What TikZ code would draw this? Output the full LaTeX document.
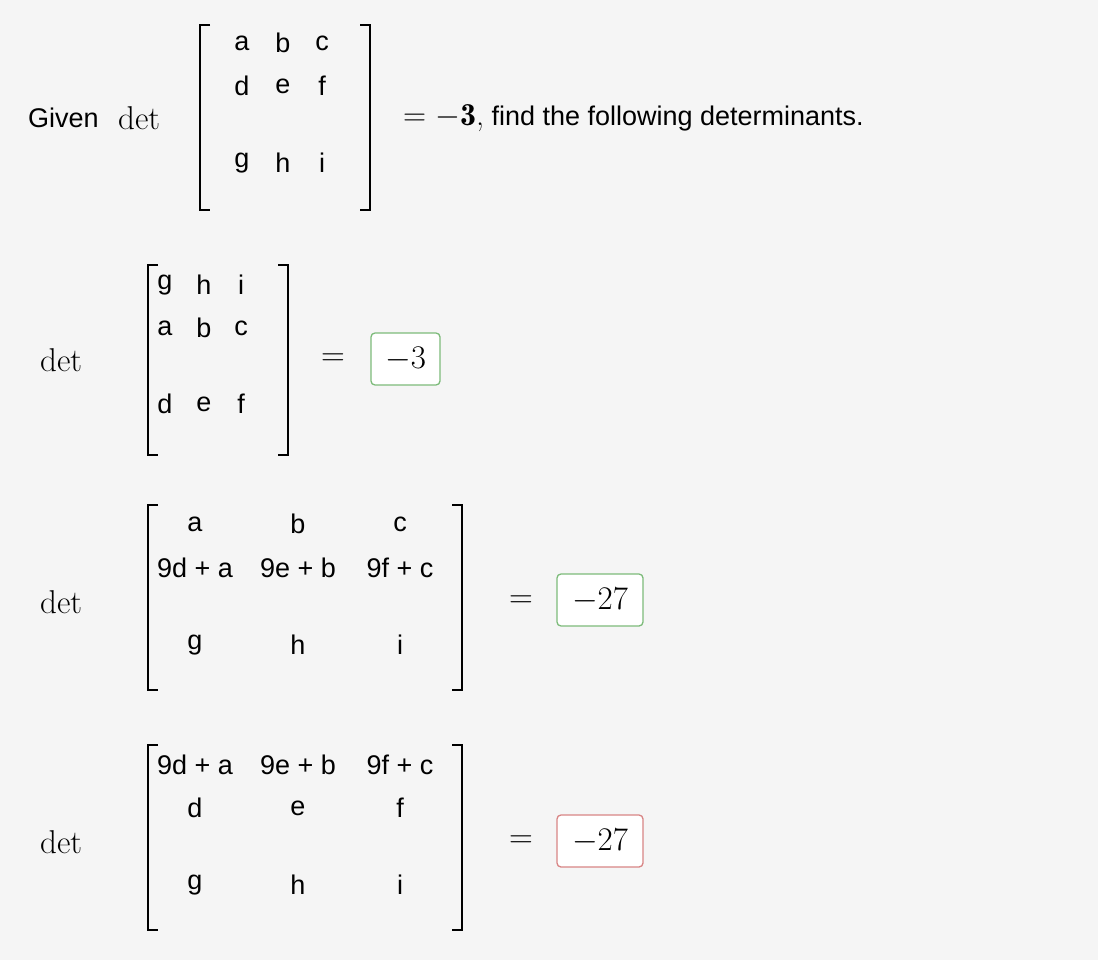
\documentclass[tikz,border=0pt]{standalone}
\usepackage{fix-cm}
\usepackage{fontspec}
\newfontfamily\sansf{Liberation Sans}
\begin{document}
\begin{tikzpicture}[x=1pt,y=-1pt,
  ent/.style={font=\sansf\fontsize{27}{30}\selectfont, inner sep=0pt},
  mt/.style={font=\fontsize{33}{36}\selectfont, inner sep=0pt},
  ans/.style={draw=#1, line width=1.3pt, rounded corners=4pt, fill=white, minimum height=52pt, font=\fontsize{33}{36}\selectfont},
  brk/.style={line width=2pt}]
\fill[gray!8] (0,0) rectangle (1098,960);
\useasboundingbox (0,0) rectangle (1098,960);
\definecolor{gb}{HTML}{7DBB7A}\definecolor{rb}{HTML}{D88585}
% header
\node[ent, font=\sansf\fontsize{27}{30}\selectfont, anchor=west] (given) at (28,118) {Given};
\node[mt, anchor=west] (d0) at (118,118) {$\det$};
\draw[brk] (210,25) -- (200,25) -- (200,210) -- (210,210);
\draw[brk] (360,25) -- (370,25) -- (370,210) -- (360,210);
\foreach \t/\x/\y [count=\i] in {a/242/43,b/283/43,c/322/43,d/242/86,e/283/86,f/322/86,g/242/163,h/283/163,i/322/163}
  \node[ent] (m0\i) at (\x,\y) {\t};
\node[anchor=west, inner sep=0pt] (r0) at (403,118) {\fontsize{32}{36}\selectfont$=\mathbf{-3}$,\sansf\fontsize{27}{30}\selectfont\ find the following determinants.};
% matrix 2
\node[mt, anchor=west] (d1) at (40,360) {$\det$};
\draw[brk] (158,265) -- (148,265) -- (148,455) -- (158,455);
\draw[brk] (278,265) -- (288,265) -- (288,455) -- (278,455);
\foreach \t/\x/\y [count=\i] in {g/165/285,h/204/285,i/241/285,a/165/328,b/204/328,c/241/328,d/165/404,e/204/404,f/241/404}
  \node[ent] (m1\i) at (\x,\y) {\t};
\node[mt] (e1) at (333,360) {$=$};
\node[ans=gb, minimum width=69pt] (a1) at (405.5,359) {$-3$};
% matrix 3
\node[mt, anchor=west] (d2) at (40,602) {$\det$};
\draw[brk] (158,505) -- (148,505) -- (148,690) -- (158,690);
\draw[brk] (452,505) -- (462,505) -- (462,690) -- (452,690);
\foreach \t/\x/\y [count=\i] in {a/195/524,b/298/524,c/400/524,9d + a/195/568,9e + b/298/568,9f + c/400/568,g/195/645,h/298/645,i/400/645}
  \node[ent] (m2\i) at (\x,\y) {\t};
\node[mt] (e2) at (521,602) {$=$};
\node[ans=gb, minimum width=86pt] (a2) at (600,600) {$-27$};
% matrix 4
\node[mt, anchor=west] (d3) at (40,842) {$\det$};
\draw[brk] (158,745) -- (148,745) -- (148,930) -- (158,930);
\draw[brk] (452,745) -- (462,745) -- (462,930) -- (452,930);
\foreach \t/\x/\y [count=\i] in {9d + a/195/765,9e + b/298/765,9f + c/400/765,d/195/808,e/298/808,f/400/808,g/195/885,h/298/885,i/400/885}
  \node[ent] (m3\i) at (\x,\y) {\t};
\node[mt] (e3) at (521,842) {$=$};
\node[ans=rb, minimum width=86pt] (a3) at (600,841) {$-27$};
\end{tikzpicture}
\end{document}
